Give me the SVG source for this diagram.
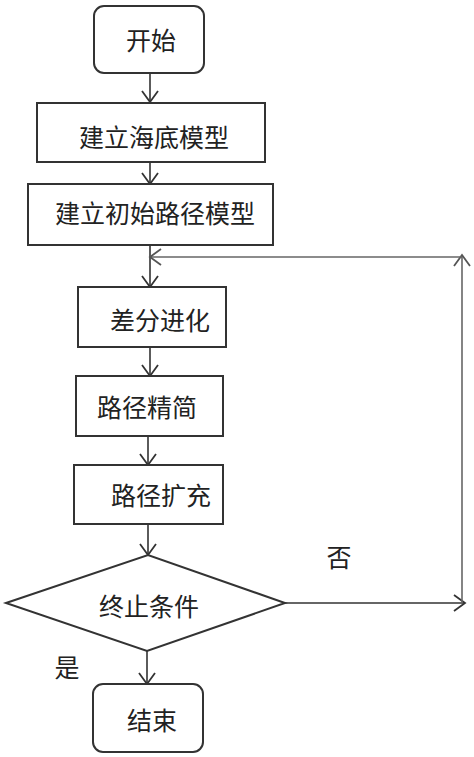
<svg xmlns="http://www.w3.org/2000/svg" width="474" height="757" viewBox="0 0 474 757">
<style>
.box{fill:#fff;stroke:#333;stroke-width:2}
.t{font-family:"Noto Sans CJK SC","Noto Sans",sans-serif;font-size:25px;fill:#222;text-anchor:middle}
.c{fill:none;stroke:#333;stroke-width:1.6}
.g{fill:none;stroke:#666;stroke-width:1.6}
</style>
<defs>
<marker id="ah" markerUnits="userSpaceOnUse" markerWidth="14" markerHeight="18" refX="12" refY="9" orient="auto" viewBox="0 0 14 18">
<path d="M1,1 L12,9 L1,17" fill="none" stroke="#333" stroke-width="1.8"/>
</marker>
<marker id="ahg" markerUnits="userSpaceOnUse" markerWidth="14" markerHeight="18" refX="12" refY="9" orient="auto" viewBox="0 0 14 18">
<path d="M1,1 L12,9 L1,17" fill="none" stroke="#555" stroke-width="1.8"/>
</marker>
</defs>
<rect width="474" height="757" fill="#fff"/>
<g id="connectors">
<line class="c" x1="150" y1="73" x2="150" y2="102" marker-end="url(#ah)"/>
<line class="c" x1="150" y1="162" x2="150" y2="184" marker-end="url(#ah)"/>
<line class="c" x1="150" y1="245" x2="150" y2="287" marker-end="url(#ah)"/>
<line class="c" x1="150" y1="347" x2="150" y2="376" marker-end="url(#ah)"/>
<line class="c" x1="148" y1="436" x2="148" y2="465" marker-end="url(#ah)"/>
<line class="c" x1="148" y1="524" x2="148" y2="555" marker-end="url(#ah)"/>
<line class="c" x1="147" y1="651" x2="147" y2="684" marker-end="url(#ah)"/>
<line class="c" x1="285" y1="603" x2="465" y2="603" marker-end="url(#ah)"/>
<line class="g" x1="462" y1="603" x2="462" y2="255" marker-end="url(#ahg)"/>
<line class="g" x1="462" y1="257" x2="150" y2="257" marker-end="url(#ahg)"/>
</g>
<g id="start">
<rect class="box" x="94" y="6" width="110" height="67" rx="10"/>
<text class="t" x="151" y="50">开始</text>
</g>
<g id="seabed">
<rect class="box" x="37" y="103" width="228" height="59"/>
<text class="t" x="154" y="147">建立海底模型</text>
</g>
<g id="initpath">
<rect class="box" x="28" y="184" width="245" height="61"/>
<text class="t" x="155" y="223">建立初始路径模型</text>
</g>
<g id="de">
<rect class="box" x="78" y="287" width="148" height="60"/>
<text class="t" x="160" y="330">差分进化</text>
</g>
<g id="simplify">
<rect class="box" x="76" y="376" width="147" height="60"/>
<text class="t" x="147" y="417">路径精简</text>
</g>
<g id="expand">
<rect class="box" x="74" y="465" width="149" height="59"/>
<text class="t" x="161" y="505">路径扩充</text>
</g>
<g id="cond">
<polygon class="box" points="6,603 148,555 285,603 147,651"/>
<text class="t" x="149" y="616">终止条件</text>
</g>
<g id="labels">
<text class="t" x="339" y="567">否</text>
<text class="t" x="67" y="677">是</text>
</g>
<g id="end">
<rect class="box" x="93" y="684" width="110" height="68" rx="10"/>
<text class="t" x="152" y="730">结束</text>
</g>
</svg>
